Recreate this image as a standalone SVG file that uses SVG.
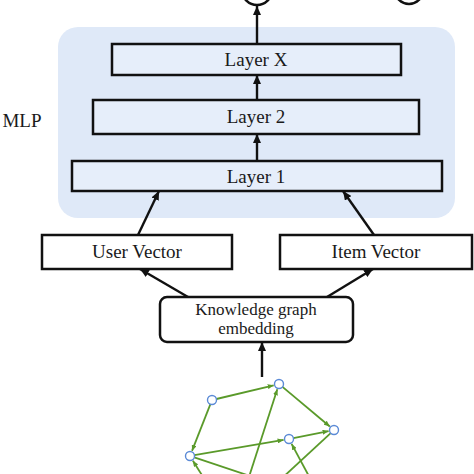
<svg xmlns="http://www.w3.org/2000/svg" width="474" height="474" viewBox="0 0 474 474">
<style>
.box{fill:#e6eefa;stroke:#111;stroke-width:2.5}
.wbox{fill:#fff;stroke:#111;stroke-width:2.5}
.t{font-family:"Liberation Serif",serif;fill:#1a1a1a;text-anchor:middle}
.c{stroke:#111;stroke-width:2.4;fill:none;marker-end:url(#ah)}
.g{stroke:#5a9a2a;stroke-width:1.8;fill:none}
.ga{marker-end:url(#gh)}
.n{fill:#fff;stroke:#5b8ad6;stroke-width:1.4}
</style>
<defs>
<marker id="ah" markerUnits="userSpaceOnUse" markerWidth="9" markerHeight="8" refX="9" refY="4" orient="auto"><path d="M0,0 L9,4 L0,8 z" fill="#111"/></marker>
<marker id="gh" markerUnits="userSpaceOnUse" markerWidth="6" markerHeight="5" refX="6" refY="2.5" orient="auto"><path d="M0,0 L6,2.5 L0,5 z" fill="#5a9a2a"/></marker>
</defs>
<rect x="58" y="27" width="397" height="191" rx="20" fill="#dfe9f8"/>
<g id="out1"><circle cx="257" cy="-10" r="15" fill="#fff" stroke="#111" stroke-width="2.5"/></g>
<g id="out2"><circle cx="409" cy="-10" r="14" fill="#fff" stroke="#111" stroke-width="2.5"/></g>
<g id="mlp-label"><text class="t" x="22" y="127" font-size="19">MLP</text></g>
<g id="layerX"><rect class="box" x="112" y="44" width="289" height="31"/><text class="t" x="256" y="66" font-size="19">Layer X</text></g>
<g id="layer2"><rect class="box" x="93" y="100" width="326" height="34"/><text class="t" x="256" y="123" font-size="19">Layer 2</text></g>
<g id="layer1"><rect class="box" x="72" y="161" width="370" height="30"/><text class="t" x="256" y="183" font-size="19">Layer 1</text></g>
<g id="user"><rect class="wbox" x="42" y="235" width="190" height="34"/><text class="t" x="137" y="258" font-size="19">User Vector</text></g>
<g id="item"><rect class="wbox" x="280" y="235" width="192" height="34"/><text class="t" x="376" y="258" font-size="19">Item Vector</text></g>
<g id="kg"><rect class="wbox" x="160" y="297" width="193" height="45" rx="7"/><text class="t" x="256" y="315" font-size="17">Knowledge graph</text><text class="t" x="256" y="334" font-size="17">embedding</text></g>
<g id="connectors">
<line class="c" x1="257" y1="44" x2="257" y2="6"/>
<line class="c" x1="257" y1="100" x2="257" y2="75"/>
<line class="c" x1="257" y1="161" x2="257" y2="134"/>
<line class="c" x1="138" y1="235" x2="159" y2="191"/>
<line class="c" x1="374" y1="235" x2="343" y2="191"/>
<line class="c" x1="188" y1="297" x2="140" y2="269"/>
<line class="c" x1="327" y1="297" x2="373" y2="269"/>
<line class="c" x1="262" y1="377" x2="262" y2="342"/>
</g>
<g id="graph-edges">
<line class="g ga" x1="216.4" y1="399" x2="273.7" y2="385.3"/>
<line class="g ga" x1="210.4" y1="404.2" x2="192" y2="450.9"/>
<line class="g ga" x1="282.5" y1="386.9" x2="329.8" y2="426.5"/>
<line class="g ga" x1="194.4" y1="455.2" x2="283.6" y2="439.9"/>
<line class="g ga" x1="293.4" y1="438.1" x2="328.6" y2="431.1"/>
<line class="g ga" x1="248" y1="480" x2="277.3" y2="389.2"/>
<line class="g" x1="194.3" y1="457.4" x2="262" y2="480"/>
<line class="g" x1="330.7" y1="433.1" x2="280" y2="480"/>
<line class="g ga" x1="311" y1="480" x2="291.6" y2="443.9"/>
<line class="g ga" x1="205" y1="480" x2="192.9" y2="460.7"/>
</g>
<g id="graph-nodes">
<circle class="n" cx="212" cy="400" r="4.5"/>
<circle class="n" cx="279" cy="384" r="4.5"/>
<circle class="n" cx="334" cy="430" r="4.5"/>
<circle class="n" cx="289" cy="439" r="4.5"/>
<circle class="n" cx="190" cy="456" r="4.5"/>
</g>
</svg>
